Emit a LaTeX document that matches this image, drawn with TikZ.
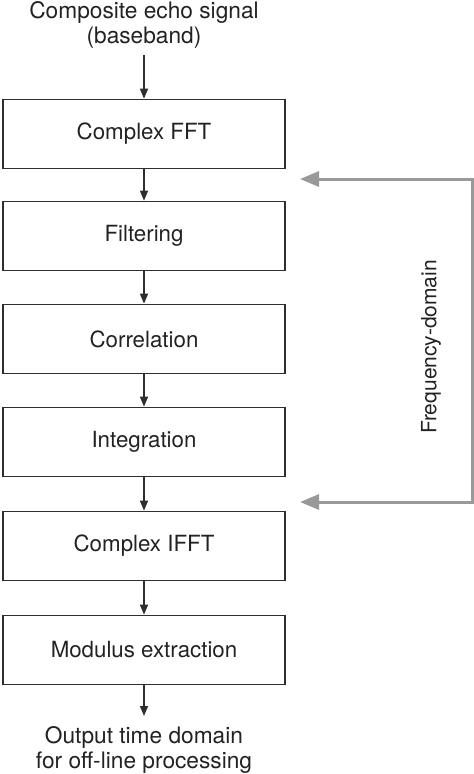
\documentclass[tikz,border=0pt]{standalone}
\usepackage{fontspec}
\setmainfont{TeX Gyre Heros}
\usetikzlibrary{arrows.meta}
\definecolor{boxline}{HTML}{2E2E2E}
\definecolor{fbgray}{HTML}{999999}
\definecolor{txt}{HTML}{222222}
\tikzset{
  stagebox/.style={draw=boxline, line width=1.7pt, minimum width=282pt, minimum height=69pt,
    inner sep=0pt, text=txt, font=\fontsize{22.3}{26}\selectfont},
  flowarrow/.style={draw=boxline, line width=1.5pt, -{Triangle[length=10pt,width=8pt]}},
  fbarrow/.style={draw=fbgray, line width=3pt, -{Triangle[length=19pt,width=15pt]}},
  plaintext/.style={align=center, text=txt, font=\fontsize{22.7}{24.5}\selectfont, inner sep=0pt},
}
\begin{document}
\begin{tikzpicture}[x=1pt,y=1pt]
\useasboundingbox (0,0) rectangle (474,-774);
\node[plaintext] (in) at (144,-25) {Composite echo signal\\(baseband)};
\coordinate (inend) at (144,-55);
\node[stagebox] (fft) at (144,-134) {Complex FFT};
\node[stagebox] (filt) at (144,-236) {Filtering};
\node[stagebox] (corr) at (144,-339) {Correlation};
\node[stagebox] (integ) at (144,-442) {Integration};
\node[stagebox] (ifft) at (144,-546) {Complex IFFT};
\node[stagebox] (mod) at (144,-650) {Modulus extraction};
\coordinate (outstart) at (144,-716);
\node[plaintext] (out) at (144,-750) {Output time domain\\for off-line processing};
\draw[flowarrow] (inend) -- (fft.north);
\draw[flowarrow] (fft.south) -- (filt.north);
\draw[flowarrow] (filt.south) -- (corr.north);
\draw[flowarrow] (corr.south) -- (integ.north);
\draw[flowarrow] (integ.south) -- (ifft.north);
\draw[flowarrow] (ifft.south) -- (mod.north);
\draw[flowarrow] (mod.south) -- (outstart);
\coordinate (fbtopR) at (472,-179);
\coordinate (fbtopL) at (300,-179);
\coordinate (fbbotR) at (472,-502);
\coordinate (fbbotL) at (300,-502);
\draw[fbarrow] (fbbotR) -- (fbtopR) -- (fbtopL);
\draw[fbarrow] (fbtopR) -- (fbbotR) -- (fbbotL);
\node[plaintext, rotate=90, font=\fontsize{21}{25}\selectfont] (fdlabel) at (431,-347) {Frequency-domain};
\end{tikzpicture}
\end{document}
